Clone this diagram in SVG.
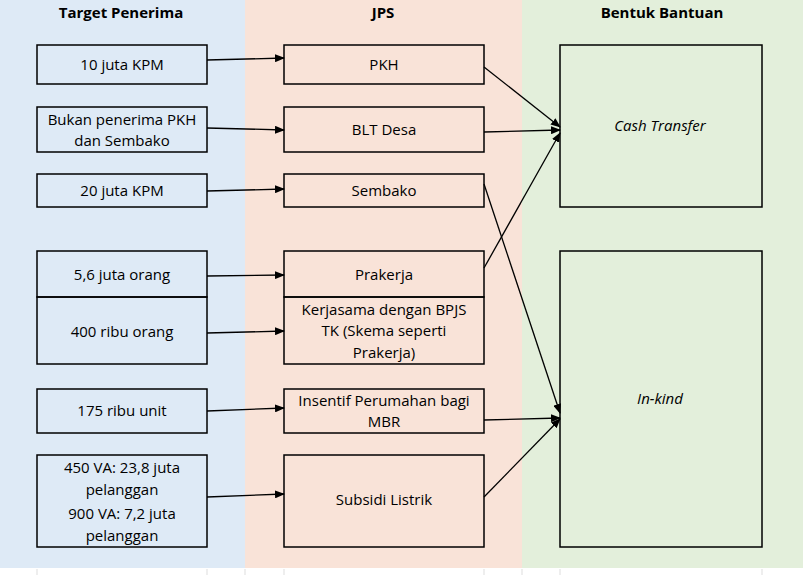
<svg xmlns="http://www.w3.org/2000/svg" width="803" height="575" viewBox="0 0 803 575">
<style>
.b{fill:none;stroke:#000;stroke-width:1.5}
text{font-family:"Open Sans","Noto Sans",sans-serif;font-size:15px;fill:#000;text-anchor:middle}
.h{font-weight:bold}
.c line{stroke:#000;stroke-width:1.3;marker-end:url(#a)}
.g{stroke:#ddd;stroke-width:1}
</style>
<defs><marker id="a" markerWidth="10" markerHeight="8" refX="9" refY="4" orient="auto" markerUnits="userSpaceOnUse"><path d="M0,0L10,4L0,8z" fill="#000"/></marker></defs>
<rect x="0" y="0" width="803" height="575" fill="#fff"/>
<rect x="0" y="0" width="245" height="568" fill="#deeaf6"/>
<rect x="245" y="0" width="277" height="568" fill="#f9e3d8"/>
<rect x="522" y="0" width="281" height="568" fill="#e3efdb"/>
<g class="g"><line x1="37" y1="569" x2="37" y2="575"/><line x1="207" y1="569" x2="207" y2="575"/><line x1="245" y1="569" x2="245" y2="575"/><line x1="284" y1="569" x2="284" y2="575"/><line x1="484" y1="569" x2="484" y2="575"/><line x1="522" y1="569" x2="522" y2="575"/><line x1="560" y1="569" x2="560" y2="575"/><line x1="762" y1="569" x2="762" y2="575"/></g>
<text class="h" x="121" y="18">Target Penerima</text>
<text class="h" x="383" y="18">JPS</text>
<text class="h" x="662" y="18">Bentuk Bantuan</text>
<g id="t1"><rect class="b" x="37" y="45" width="170" height="39"/><text x="122" y="70">10 juta KPM</text></g>
<g id="t2"><rect class="b" x="37" y="107" width="170" height="45"/><text x="122" y="125">Bukan penerima PKH</text><text x="122" y="146">dan Sembako</text></g>
<g id="t3"><rect class="b" x="37" y="174" width="170" height="33"/><text x="122" y="196">20 juta KPM</text></g>
<g id="t4"><rect class="b" x="37" y="251" width="170" height="46"/><text x="122" y="280">5,6 juta orang</text></g>
<g id="t5"><rect class="b" x="37" y="297" width="170" height="67"/><text x="122" y="337">400 ribu orang</text></g>
<g id="t6"><rect class="b" x="37" y="389" width="170" height="44"/><text x="122" y="416">175 ribu unit</text></g>
<g id="t7"><rect class="b" x="37" y="455" width="170" height="92"/><text x="122" y="473">450 VA: 23,8 juta</text><text x="122" y="495">pelanggan</text><text x="122" y="519">900 VA: 7,2 juta</text><text x="122" y="541">pelanggan</text></g>
<g id="j1"><rect class="b" x="284" y="45" width="200" height="39"/><text x="384" y="70">PKH</text></g>
<g id="j2"><rect class="b" x="284" y="107" width="200" height="45"/><text x="384" y="135">BLT Desa</text></g>
<g id="j3"><rect class="b" x="284" y="174" width="200" height="33"/><text x="384" y="196">Sembako</text></g>
<g id="j4"><rect class="b" x="284" y="251" width="200" height="46"/><text x="384" y="280">Prakerja</text></g>
<g id="j5"><rect class="b" x="284" y="297" width="200" height="67"/><text x="384" y="315">Kerjasama dengan BPJS</text><text x="384" y="336">TK (Skema seperti</text><text x="384" y="358">Prakerja)</text></g>
<g id="j6"><rect class="b" x="284" y="389" width="200" height="44"/><text x="384" y="406">Insentif Perumahan bagi</text><text x="384" y="427">MBR</text></g>
<g id="j7"><rect class="b" x="284" y="455" width="200" height="92"/><text x="384" y="505">Subsidi Listrik</text></g>
<g id="r1"><rect class="b" x="560" y="45" width="202" height="162"/><text x="660" y="131" font-style="italic">Cash Transfer</text></g>
<g id="r2"><rect class="b" x="560" y="251" width="202" height="296"/><text x="660" y="404" font-style="italic">In-kind</text></g>
<g class="c">
<line x1="207" y1="60" x2="284" y2="58"/>
<line x1="207" y1="128" x2="284" y2="130"/>
<line x1="207" y1="191" x2="284" y2="189"/>
<line x1="207" y1="276" x2="284" y2="275"/>
<line x1="207" y1="333" x2="284" y2="331"/>
<line x1="207" y1="411" x2="284" y2="408"/>
<line x1="207" y1="497" x2="284" y2="494"/>
<line x1="484" y1="67" x2="560" y2="127"/>
<line x1="484" y1="132" x2="560" y2="130"/>
<line x1="484" y1="268" x2="560" y2="133"/>
<line x1="484" y1="184" x2="560" y2="413"/>
<line x1="484" y1="420" x2="560" y2="418"/>
<line x1="484" y1="497" x2="560" y2="419"/>
</g>
</svg>
